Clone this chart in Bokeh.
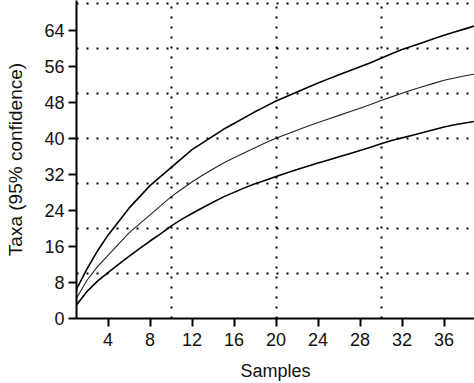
from bokeh.plotting import figure
from bokeh.models import FixedTicker, Range1d
from bokeh.embed import file_html
from bokeh.resources import INLINE

samples = list(range(1, 40))
upper = [6.5, 11, 15, 18.5, 21.5, 24.5, 27, 29.5, 31.5, 33.5,
         35.5, 37.5, 39, 40.5, 42, 43.3, 44.6, 45.9, 47.1, 48.3,
         49.3, 50.3, 51.3, 52.3, 53.2, 54.1, 55, 55.9, 56.8, 57.8,
         58.8, 59.7, 60.5, 61.3, 62.1, 62.9, 63.6, 64.3, 65]
middle = [4.5, 8.5, 11.5, 14, 16.5, 19, 21, 23, 25, 27,
          28.7, 30.3, 31.8, 33.2, 34.5, 35.7, 36.8, 37.9, 39, 40,
          40.9, 41.8, 42.7, 43.5, 44.3, 45.1, 45.9, 46.7, 47.5, 48.4,
          49.2, 50, 50.8, 51.5, 52.2, 52.9, 53.4, 53.9, 54.3]
lower = [3, 6, 8.3, 10.2, 12, 13.8, 15.5, 17.2, 18.8, 20.5,
         22, 23.3, 24.6, 25.8, 27, 28, 29, 29.9, 30.7, 31.5,
         32.3, 33.1, 33.8, 34.5, 35.2, 35.9, 36.6, 37.3, 38, 38.8,
         39.5, 40.1, 40.7, 41.3, 41.9, 42.5, 43, 43.4, 43.8]

x_ticks = [4, 8, 12, 16, 20, 24, 28, 32, 36]
y_ticks = [0, 8, 16, 24, 32, 40, 48, 56, 64]
x_grid = [10, 20, 30]
y_grid = [10, 20, 30, 40, 50, 60, 70]

p = figure(frame_width=398, frame_height=318, output_backend="svg", toolbar_location=None,
           x_range=Range1d(1, 38.9), y_range=Range1d(0, 70.6),
           min_border_left=76, min_border_right=0, min_border_top=0,
           min_border_bottom=64)
p.outline_line_color = None
p.background_fill_color = "white"
p.border_fill_color = "white"

FONT = "Liberation Sans"

for ax in (p.xaxis[0], p.yaxis[0]):
    ax.axis_line_width = 2
    ax.axis_line_color = "black"
    ax.major_tick_line_width = 2
    ax.major_tick_line_color = "black"
    ax.major_tick_out = 8
    ax.major_tick_in = 0
    ax.minor_tick_line_color = None
    ax.major_label_text_font = FONT
    ax.major_label_text_font_size = "18px"
    ax.major_label_text_color = "#111111"
    ax.axis_label_text_font = FONT
    ax.axis_label_text_font_size = "18px"
    ax.axis_label_text_font_style = "normal"
    ax.axis_label_text_color = "#111111"

p.yaxis.axis_label_text_font_size = "19px"
p.xaxis.ticker = FixedTicker(ticks=x_ticks)
p.yaxis.ticker = FixedTicker(ticks=y_ticks)
p.xaxis.axis_label = "Samples"
p.yaxis.axis_label = "Taxa (95% confidence)"
p.xaxis.axis_label_standoff = 12
p.yaxis.axis_label_standoff = 15
p.xaxis.major_label_standoff = 6
p.yaxis.major_label_standoff = 4

p.xgrid.ticker = FixedTicker(ticks=x_grid)
p.ygrid.ticker = FixedTicker(ticks=y_grid)
for g in (p.xgrid[0], p.ygrid[0]):
    g.grid_line_color = "black"
    g.grid_line_width = 2
    g.grid_line_dash = "2 8"

p.line(samples, upper, line_color="black", line_width=1.6)
p.line(samples, middle, line_color="#222222", line_width=1.1)
p.line(samples, lower, line_color="black", line_width=1.6)

open("out.html", "w").write(file_html(p, INLINE))
